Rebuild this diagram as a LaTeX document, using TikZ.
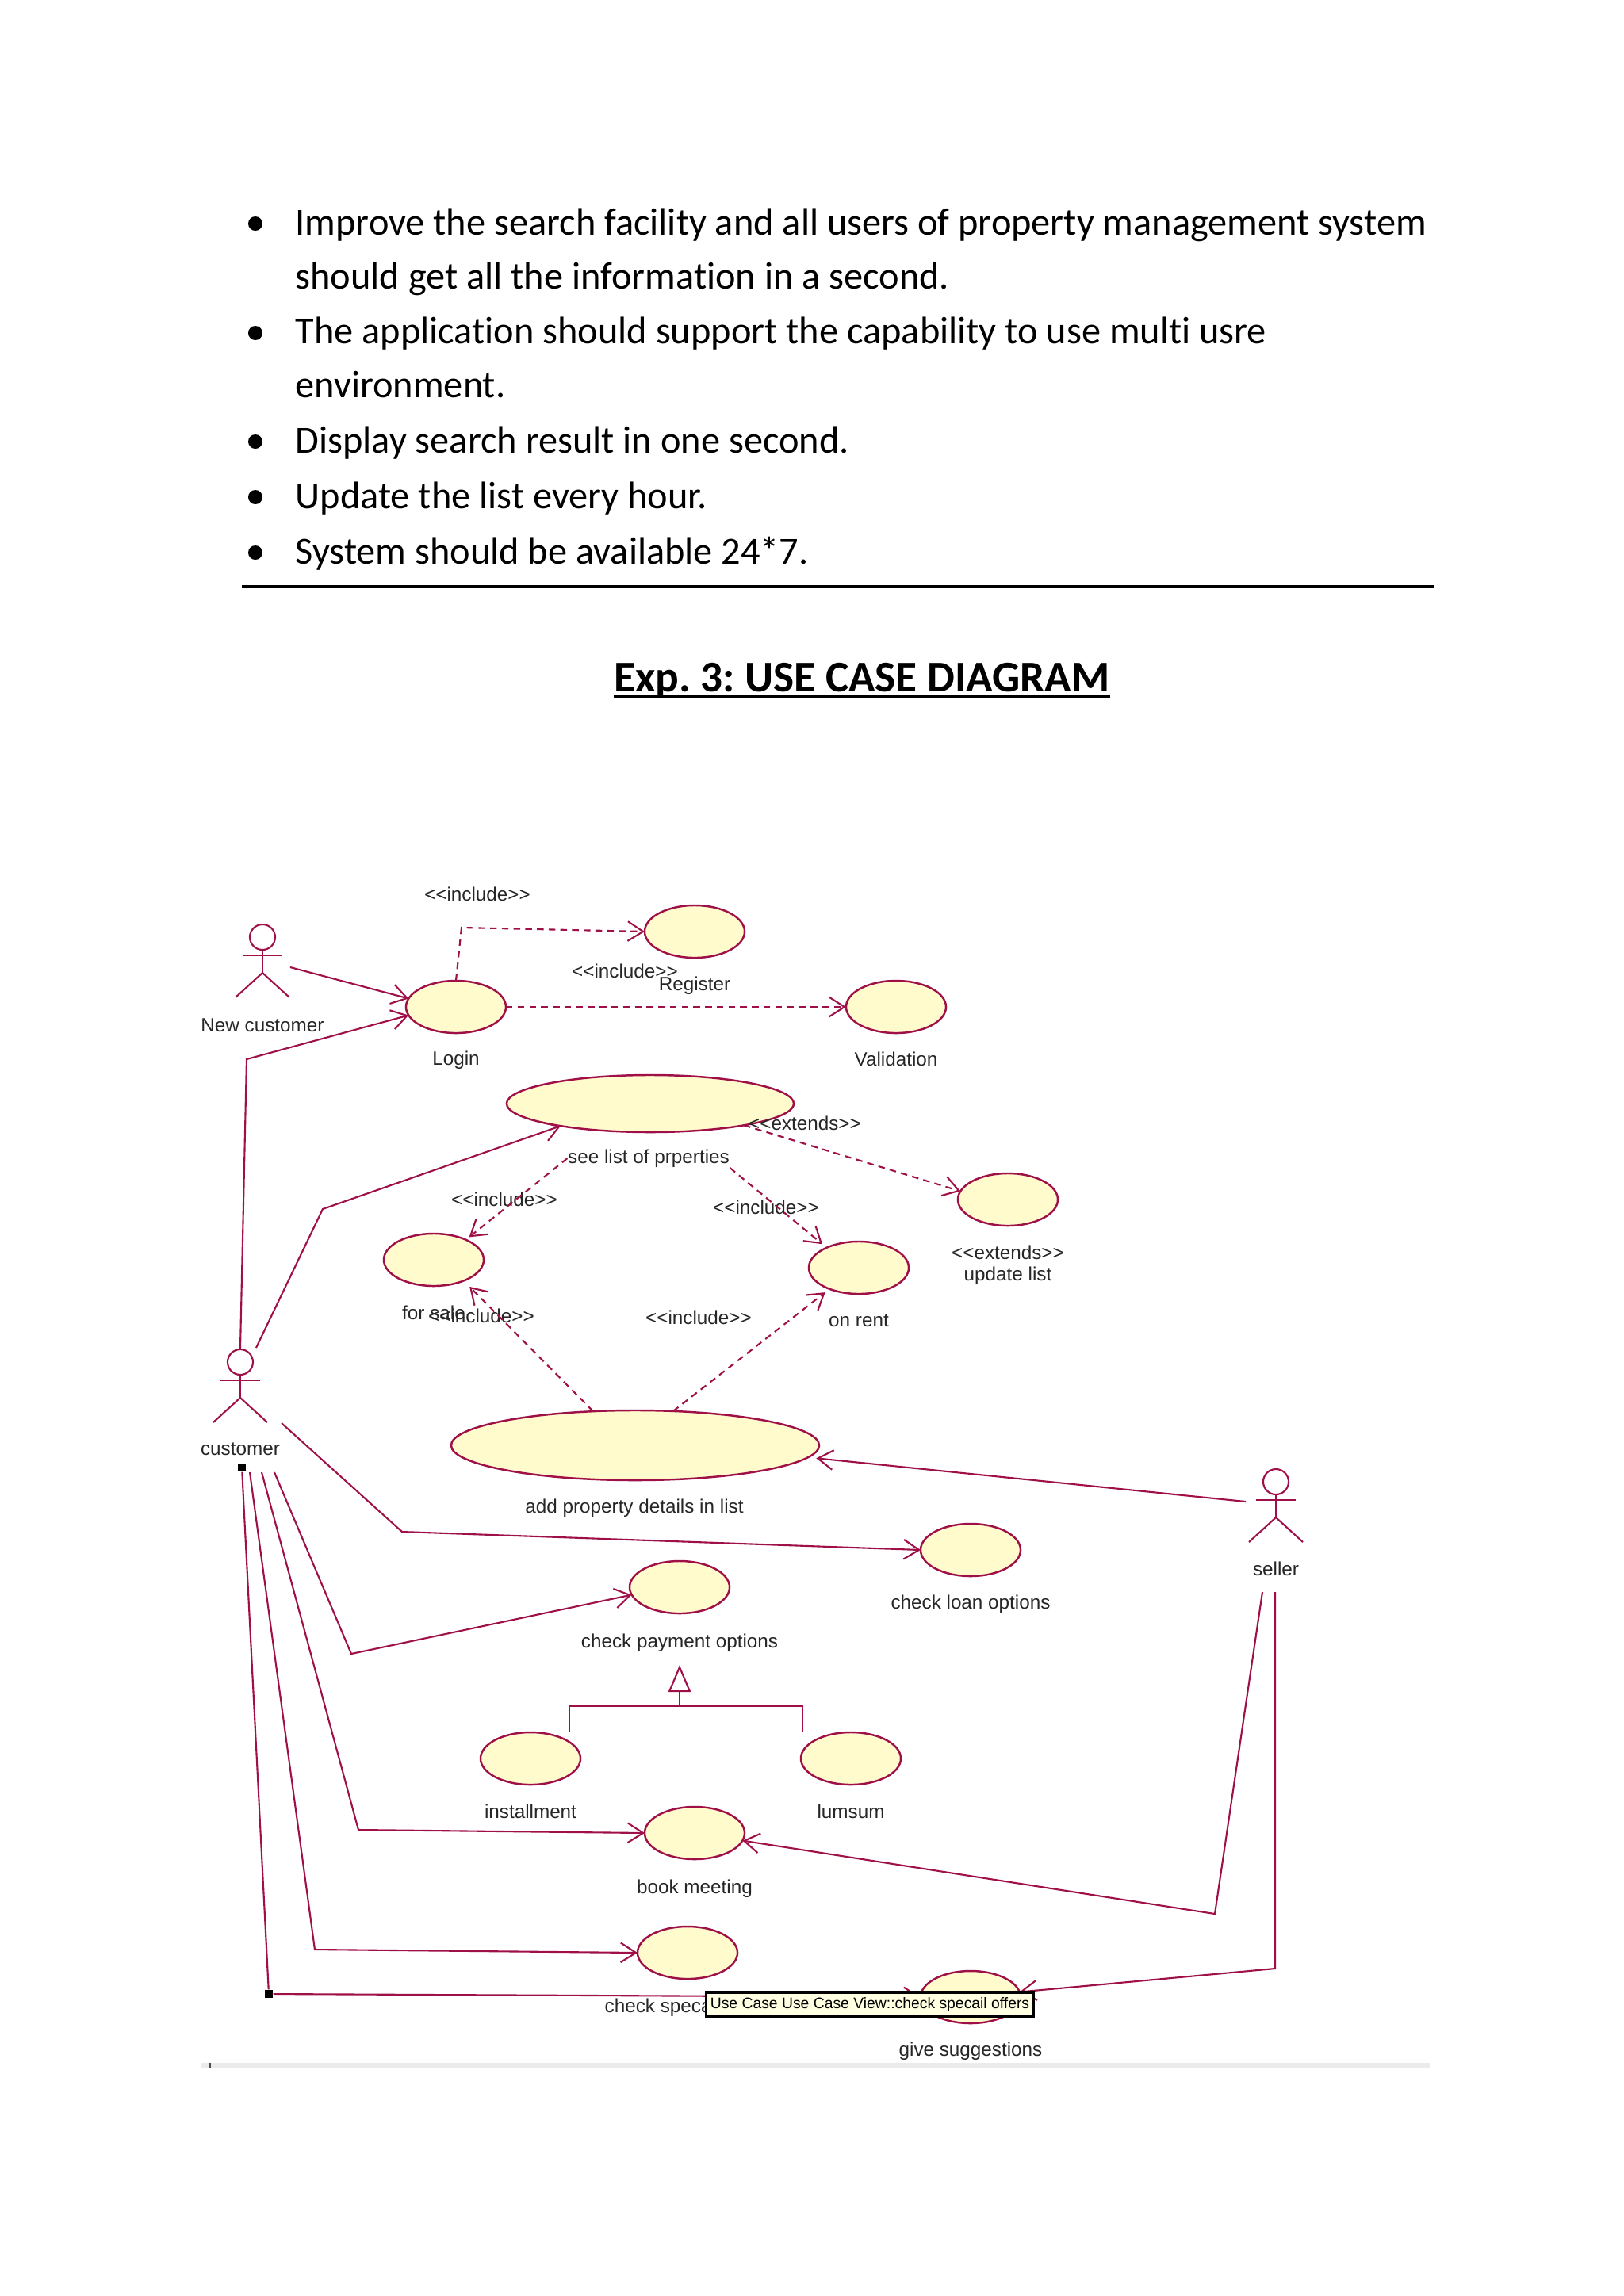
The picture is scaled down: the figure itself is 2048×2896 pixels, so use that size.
\documentclass[tikz,border=0pt]{standalone}
\usepackage{fontspec}
\usepackage{tikz}
\usetikzlibrary{arrows.meta}
\usetikzlibrary{shapes.geometric}
\setmainfont[Ligatures=NoCommon]{Carlito}
\newfontfamily\umlfont{Liberation Sans}
\definecolor{rosered}{HTML}{A01048}
\definecolor{rosefill}{HTML}{FFFBCC}
\definecolor{tipfill}{HTML}{FFFFE1}
\newcommand{\incl}{<{}<include>{}>}
\newcommand{\extd}{<{}<extends>{}>}

\begin{document}
\frenchspacing
\begin{tikzpicture}[x=0.01cm,y=-0.01cm]
      \tikzset{
        case/.style={draw=rosered, fill=rosefill, ellipse, line width=0.7pt, inner sep=0pt, outer sep=0pt, minimum width=1.26cm, minimum height=0.66cm, node distance=0.67cm},
        lbl/.style={font=\umlfont\fontsize{6.9}{8}\selectfont, text=black!85, inner sep=0pt, node distance=0.67cm},
        line/.style={draw=rosered, line width=0.6pt, -{Straight Barb[length=5.5pt,width=7pt]}},
        dep/.style={line, dashed, dash pattern=on 2.4pt off 1.8pt},
        gen/.style={draw=rosered, line width=0.6pt},
        handle/.style={fill=black, inner sep=0pt, minimum size=0.1cm},
        txt/.style={font=\fontsize{13.75}{16}\selectfont, anchor=base west, inner sep=0pt},
        bul/.style={circle, fill=black, inner sep=0pt, minimum size=0.18cm},
        actor/.pic={
          \draw[gen] (0,0) circle [radius=16];
          \draw[gen] (-25,23) -- (25,23);
          \draw[gen] (0,16) -- (0,45);
          \draw[gen] (-34,76) -- (0,45) -- (34,76);
        },
      }
      \useasboundingbox (0,0) rectangle (2048,2896);

      % requirements text
      \node [bul] (b1) at (322,282) {};
      \node [bul] (b2) at (322,420) {};
      \node [bul] (b3) at (322,557) {};
      \node [bul] (b4) at (322,627) {};
      \node [bul] (b5) at (322,697) {};
      \node [txt] (t1) at (372,296) {Improve the search facility and all users of property management system};
      \node [txt] (t1b) at (372,364) {should get all the information in a second.};
      \node [txt] (t2) at (372,433) {The application should support the capability to use multi usre};
      \node [txt] (t2b) at (372,501) {environment.};
      \node [txt] (t3) at (372,571) {Display search result in one second.};
      \node [txt] (t4) at (372,641) {Update the list every hour.};
      \node [txt] (t5) at (372,711) {System should be available 24*7.};
      \coordinate (ruleL) at (305,740);
      \coordinate (ruleR) at (1809,740);
      \draw [line width=1.4pt] (ruleL)--(ruleR);
      \node [font=\fontsize{15.7}{18}\selectfont\bfseries, inner sep=0pt, anchor=base] (title) at (1087,872) {Exp. 3: USE CASE DIAGRAM};
      \draw [line width=1.4pt] ([yshift=0.8pt]title.south west)--([yshift=0.8pt]title.south east);

      % use cases
      \node [case] (login) at (575,1270) {};
      \node [case] (register) at (876,1175) {};
      \node [case] (validation) at (1130,1270) {};
      \node [case, minimum width=3.62cm, minimum height=0.72cm] (seelist) at (820,1392) {};
      \node [case] (update) at (1271,1513) {};
      \node [case] (forsale) at (547,1589) {};
      \node [case] (onrent) at (1083,1599) {};
      \node [case, minimum width=4.64cm, minimum height=0.88cm] (addprop) at (801,1823) {};
      \node [case] (loan) at (1224,1955) {};
      \node [case] (payment) at (857,2002) {};
      \node [case] (installment) at (669,2218) {};
      \node [case] (lumsum) at (1073,2218) {};
      \node [case] (book) at (876,2312) {};
      \node [case] (special) at (867,2463) {};
      \node [case] (suggest) at (1224,2519) {};

      % labels
      \node [lbl, below of=login] (loginlbl) {Login};
      \node [lbl, below of=register, node distance=0.68cm] (registerlbl) {Register};
      \node [lbl, below of=validation, node distance=0.66cm] (validationlbl) {Validation};
      \node [lbl] (seelistlbl) at (818,1461) {see list of prperties};
      \node [lbl, below of=update] (extlbl) {\extd};
      \node [lbl, below of=extlbl, node distance=0.29cm] (updatelbl) {update list};
      \node [lbl, below of=forsale] (forsalelbl) {for sale};
      \node [lbl, below of=onrent] (onrentlbl) {on rent};
      \node [lbl] (addproplbl) at (800,1902) {add property details in list};
      \node [lbl, below of=loan, node distance=0.68cm] (loanlbl) {check loan options};
      \node [lbl, below of=payment, node distance=0.70cm] (paymentlbl) {check payment options};
      \node [lbl, below of=installment] (installmentlbl) {installment};
      \node [lbl, below of=lumsum] (lumsumlbl) {lumsum};
      \node [lbl, below of=book, node distance=0.70cm] (booklbl) {book meeting};
      \node [lbl, anchor=west] (speciallbl) at (762,2532) {check speca};
      \node [lbl, below of=suggest, node distance=0.68cm] (suggestlbl) {give suggestions};
      \node [lbl] (inc1) at (602,1128) {\incl};
      \node [lbl] (inc2) at (788,1225) {\incl};
      \node [lbl] (ext1) at (1015,1417) {\extd};
      \node [lbl] (inc3) at (636,1513) {\incl};
      \node [lbl] (inc4) at (966,1523) {\incl};
      \node [lbl] (inc5) at (607,1660) {\incl};
      \node [lbl] (inc6) at (881,1662) {\incl};

      % actors
      \pic at (331,1182) {actor};
      \pic at (303,1718) {actor};
      \pic at (1609,1869) {actor};
      \node [lbl] (newcustlbl) at (331,1293) {New customer};
      \node [lbl] (customerlbl) at (303,1828) {customer};
      \node [lbl] (sellerlbl) at (1609,1979) {seller};

      % free ends and bends
      \coordinate (nc) at (366,1220);
      \coordinate (c1) at (303,1701);
      \coordinate (c1a) at (311,1336);
      \coordinate (c2) at (323,1700);
      \coordinate (c2a) at (407,1525);
      \coordinate (c3) at (355,1795);
      \coordinate (c3a) at (507,1932);
      \coordinate (c4) at (346,1857);
      \coordinate (c4a) at (443,2086);
      \coordinate (c5) at (330,1857);
      \coordinate (c5a) at (452,2308);
      \coordinate (c6) at (315,1857);
      \coordinate (c6a) at (397,2459);
      \coordinate (s1) at (1571,1894);
      \coordinate (s2) at (1592,2008);
      \coordinate (s2a) at (1532,2414);
      \coordinate (s3) at (1608,2008);
      \coordinate (s3a) at (1608,2483);
      \coordinate (l1) at (582,1170);
      \coordinate (g1) at (718,2185);
      \coordinate (g2) at (1012,2185);
      \coordinate (gbar) at (857,2152);
      \coordinate (gtip) at (857,2100);

      \path [line] (nc)--(login.170);
      \path [line] (c1)--(c1a)--(login.190);
      \path [line] (c2)--(c2a)--(seelist.194);
      \path [line] (c3)--(c3a)--(loan.west);
      \path [line] (c4)--(c4a)--(payment.189);
      \path [line] (c5)--(c5a)--(book.west);
      \path [line] (c6)--(c6a)--(special.west);
      \path [line, shorten >=3pt] (s1)--(addprop.356);
      \path [line] (s2)--(s2a)--(book.351);
      \path [line] (s3)--(s3a)--(suggest.6);

      \path [dep] (login.north)--(l1)--(register.west);
      \path [dep] (login.east)--(validation.west);
      \path [dep] (seelist.347)--(update.170);
      \path [dep, shorten >=1.5pt] (seelistlbl.west)--(forsale.32);
      \path [dep, shorten >=2pt] (seelistlbl.south east)--(onrent.148);
      \path [dep, shorten >=3pt] (addprop.141)--(forsale.325);
      \path [dep, shorten >=2pt] (addprop.42)--(onrent.216);

      % generalisation
      \draw [gen] (g1)--(g1 |- gbar)--(g2 |- gbar)--(g2);
      \draw [gen, -{Triangle[open,length=9.7pt,width=8pt]}] (gbar)--(gtip);

      % selected link with its handles and the tooltip on top
      \node [handle] (hnd1) at (305,1851) {};
      \node [handle] (hnd2) at (339,2515) {};
      \draw [gen] (hnd1)--(hnd2);
      \path [line] (hnd2)--(suggest.west);
      \node [draw=black, line width=1pt, fill=tipfill, font=\umlfont\fontsize{5.5}{7}\selectfont, inner sep=0pt, minimum width=4.13cm, minimum height=0.3cm] (tooltip) at (1097,2528) {Use Case Use Case View::check specail offers};

      % scroll bar edge
      \node [fill=black!8, inner sep=0pt, minimum width=15.5cm, minimum height=0.06cm] (scrollbar) at (1028,2605) {};
      \coordinate (tickT) at (265,2602);
      \coordinate (tickB) at (265,2608);
      \draw [black!70, line width=0.5pt] (tickT)--(tickB);
\end{tikzpicture}
\end{document}
